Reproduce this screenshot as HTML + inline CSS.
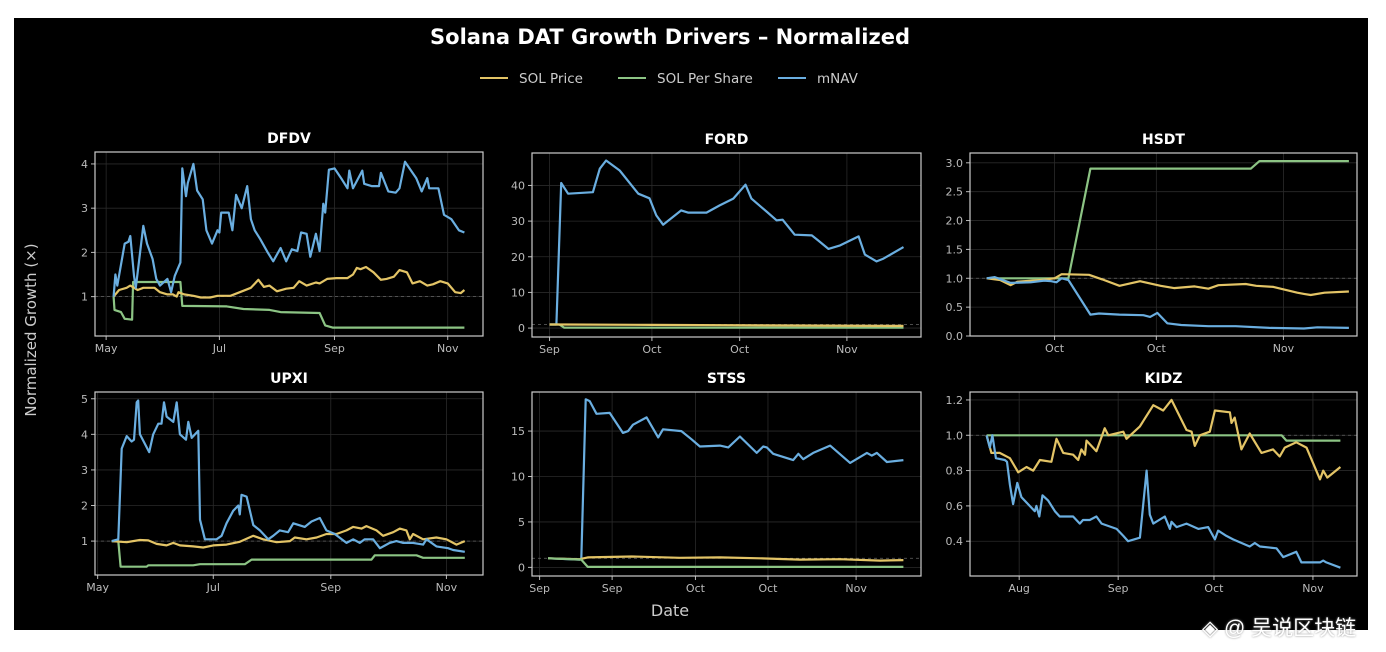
<!DOCTYPE html>
<html><head><meta charset="utf-8">
<style>
html,body{margin:0;padding:0;background:#fff;}
#wrap{position:relative;width:1386px;height:652px;background:#fff;overflow:hidden;font-family:"DejaVu Sans","Liberation Sans",sans-serif;}
#panel{position:absolute;left:14px;top:18px;width:1354px;height:612px;background:#000;}
svg{position:absolute;left:0;top:0;font-family:"DejaVu Sans","Liberation Sans",sans-serif;}
#wm{position:absolute;left:1202px;top:612px;font-family:"Liberation Sans","Noto Sans CJK SC",sans-serif;font-size:21px;color:#fff;text-shadow:0 0 2px #888;}
</style></head><body>
<div id="wrap">
<div id="panel"></div>
<svg id="svg" width="1386" height="652"></svg>
<div id="wm">◈ @ 吴说区块链</div>
</div>
<script>
// ---- DFDV ----
const dfdvMnavX=[125,126,127,131,133,134,136,137,141,143,146,148,150,154,156,158,161,162,164,165,168,170,173,175,178,181,182,183,187,189,191,194,197,199,201,204,208,211,215,218,221,224,226,229,231,234,236,238,239,241,244,248,251,252,254,259,260,264,268,269,273,277,279,282,286,288,291,294,295,300,303,307,311,314];
const dfdvMnavY=[1.0,1.5,1.25,2.2,2.24,2.37,1.47,1.2,2.6,2.2,1.85,1.4,1.25,1.4,1.1,1.47,1.77,3.9,3.27,3.57,4.0,3.4,3.2,2.5,2.2,2.5,2.45,2.9,2.9,2.5,3.3,3.0,3.5,2.75,2.5,2.3,2.0,1.8,2.1,1.8,2.07,2.03,2.45,2.42,1.9,2.42,2.03,3.1,2.9,3.87,3.9,3.65,3.45,3.85,3.45,3.85,3.55,3.5,3.5,3.8,3.38,3.35,3.45,4.05,3.8,3.68,3.38,3.68,3.45,3.45,2.85,2.75,2.5,2.45];
const dfdvPriceX=[125,128,132,134,138,141,147,150,154,157,159,160,163,168,172,177,181,188,193,199,203,206,209,213,218,222,225,229,234,236,240,245,251,254,256,258,261,265,269,272,276,279,283,286,290,294,297,301,305,309,312,314];
const dfdvPriceY=[1.0,1.15,1.2,1.25,1.15,1.2,1.2,1.1,1.05,1.05,1.0,1.1,1.05,1.02,0.98,0.98,1.02,1.02,1.1,1.2,1.38,1.22,1.25,1.12,1.18,1.2,1.35,1.25,1.32,1.3,1.4,1.42,1.42,1.5,1.65,1.62,1.67,1.55,1.38,1.4,1.45,1.6,1.55,1.3,1.35,1.25,1.28,1.35,1.3,1.1,1.08,1.15];
const dfdvShareX=[125,125.5,129,131,135,135.5,161,162,186,195,209,215,236,239,243,314];
const dfdvShareY=[1.0,0.7,0.65,0.5,0.48,1.33,1.33,0.79,0.78,0.72,0.7,0.65,0.63,0.35,0.3,0.3];
// ---- FORD ----
const fordMnavX=[244,245.4,246.4,247.8,252.9,254.3,255.6,258.4,262.2,264.5,265.9,267.3,271,272.4,276.2,278.9,281.7,284.2,285.4,288.5,290.6,291.8,294.3,297.8,299.1,301.2,303.6,307.4,308.7,311.1,312.5,316.6];
const fordMnavY=[1,1,40.7,37.7,38.1,44.7,47,44.2,37.7,36.4,31.6,29,33,32.4,32.4,34.4,36.3,40.2,36.3,32.7,30.2,30.4,26.2,26,24.6,22.2,23.2,25.7,20.6,18.7,19.5,22.7];
const fordPriceX=[244,247,265,280,300,316.6];
const fordPriceY=[1.0,1.0,0.9,0.8,0.7,0.6];
const fordShareX=[244,246,247,316.6];
const fordShareY=[1.0,1.0,0.1,0.1];
// ---- HSDT ----
const hsdtMnavX=[242.9,244.6,247.9,252.1,254.9,256.4,257.5,258.6,260,264.6,266.4,270.7,275.7,277.1,278.6,280.7,283.6,289.3,295,302.1,309.3,312.1,318.7];
const hsdtMnavY=[1.0,1.02,0.92,0.93,0.96,0.95,0.93,1.0,0.97,0.37,0.39,0.37,0.36,0.33,0.40,0.22,0.19,0.17,0.17,0.14,0.13,0.15,0.14];
const hsdtPriceX=[242.9,245.7,247.9,249.3,254.3,257.1,258.6,264.3,267.1,270.7,275,279.3,282.1,286.4,289.3,291.4,297.1,299.3,302.9,307.9,309.3,310.7,313.6,318.7];
const hsdtPriceY=[1.0,0.97,0.88,0.94,0.97,1.0,1.07,1.06,0.98,0.87,0.95,0.87,0.83,0.86,0.82,0.88,0.9,0.87,0.85,0.75,0.73,0.71,0.75,0.77];
const hsdtShareX=[242.9,260,264.6,298.2,300,318.7];
const hsdtShareY=[1.0,1.0,2.9,2.9,3.03,3.03];
// ---- UPXI ----
const upxiMnavX=[128.4,131.9,133.7,136.3,138.9,140.2,141.6,142.4,143.3,148.2,150.3,153,154.7,156,157.4,160.9,162.7,164.4,167.6,168.8,170.6,174.1,175,177.6,183.7,186.4,189,192.5,195.2,196,196.9,199.6,203.1,206.6,211,213.6,217.1,221.5,224.2,230.3,233.8,238.2,241.7,246.1,252.3,255.8,259.3,261.9,266.3,269.9,275.1,278.6,282.2,287.4,292.7,294.5,299.7,305.9,308.5,314.7];
const upxiMnavY=[1.0,1.05,3.6,3.95,3.8,3.85,4.9,4.95,4.0,3.5,4.0,4.3,4.3,4.9,4.5,4.35,4.9,4.0,3.85,4.35,3.9,4.1,1.6,1.05,1.05,1.15,1.5,1.85,2.0,1.75,2.3,2.25,1.45,1.3,1.05,1.15,1.3,1.25,1.5,1.4,1.55,1.65,1.3,1.2,0.95,1.05,0.95,1.05,1.05,0.8,0.95,1.0,0.95,0.95,0.9,1.05,0.85,0.8,0.75,0.7];
const upxiPriceX=[128.4,136.3,143.3,147.7,152.1,157.4,160.9,164.4,171.4,176.7,182,189,196,203.1,208.3,215.4,222.4,225,231.2,236.5,241.7,247,252.3,255.8,260.2,262.8,268.1,271.6,276.9,280.4,283.9,285.7,287.4,292.7,299.7,305,310.3,314.7];
const upxiPriceY=[1.0,0.97,1.03,1.02,0.92,0.88,0.95,0.88,0.85,0.82,0.88,0.9,0.98,1.15,1.05,0.97,1.0,1.1,1.05,1.1,1.2,1.2,1.3,1.4,1.35,1.42,1.3,1.15,1.25,1.35,1.3,1.05,1.2,1.05,1.1,1.05,0.9,1.0];
const upxiShareX=[128.4,131.9,133.1,146.8,147.7,171.4,175,198.7,202.2,265.5,267.2,289.2,292.7,314.7];
const upxiShareY=[1.0,1.0,0.28,0.28,0.32,0.32,0.35,0.35,0.48,0.48,0.6,0.6,0.53,0.53];
// ---- STSS ----
const stssMnavX=[222.1,230,230.4,231.5,232.5,234.2,237.5,240.8,242.1,243.3,246.7,249.6,250.8,255.4,257.9,260,265,267.1,270,274.2,275.8,276.7,278.3,283.3,284.6,285.8,288.3,292.5,297.5,301.7,302.9,304.2,306.7,310.8];
const stssMnavY=[1.0,0.85,0.9,18.5,18.3,16.9,17.0,14.8,15.0,15.7,16.5,14.3,15.2,15.0,14.1,13.3,13.4,13.2,14.4,12.6,13.3,13.2,12.5,11.8,12.5,11.9,12.6,13.4,11.5,12.6,12.3,12.6,11.6,11.8];
const stssPriceX=[222.1,230,232,243,255,265,275,285,295,305,310.8];
const stssPriceY=[1.0,0.9,1.1,1.2,1.05,1.1,1.0,0.85,0.9,0.75,0.8];
const stssShareX=[222.1,230.4,232,310.8];
const stssShareY=[1.0,0.85,0.05,0.05];
// ---- KIDZ ----
const kidzMnavX=[202.8,203.8,204.6,205.7,208.5,209.2,210.1,211.1,212.4,213.7,216.3,217.9,218.4,219.3,220.3,222.1,224.2,225.7,229.9,232,233,235.1,237.2,238.8,243.5,245.6,247.1,250.8,252.9,253.9,255,258.6,260.2,260.7,262.3,265.4,269.1,272.2,274.3,275.3,277.9,280,285.2,286.8,288.4,293.6,295.7,299.8,301.4,307.2,308.2,309.2,313.6];
const kidzMnavY=[1.0,0.93,1.0,0.87,0.86,0.85,0.72,0.61,0.73,0.65,0.6,0.57,0.6,0.54,0.66,0.63,0.57,0.54,0.54,0.5,0.52,0.52,0.54,0.5,0.47,0.43,0.4,0.42,0.8,0.55,0.5,0.54,0.47,0.51,0.48,0.5,0.47,0.48,0.41,0.46,0.43,0.41,0.37,0.39,0.37,0.36,0.31,0.34,0.28,0.28,0.29,0.28,0.25];
const kidzPriceX=[202.8,204.3,206.9,210.1,212.7,215.3,217.4,219.5,223.1,224.7,226.8,229.9,231.5,232.5,233.6,234.1,237.2,239.8,240.9,245.6,246.6,250.8,255,258.1,260.7,265.4,267,268,269.6,272.7,274.3,279,279.5,280.5,282.6,285.2,288.9,292.5,294.6,296.2,299.8,303,307.2,308.2,309.5,313.6];
const kidzPriceY=[1.0,0.9,0.9,0.87,0.79,0.82,0.8,0.86,0.85,0.98,0.9,0.89,0.86,0.92,0.89,0.97,0.91,1.04,1.0,1.02,0.98,1.05,1.17,1.14,1.2,1.03,1.02,0.94,1.0,1.02,1.14,1.13,1.07,1.1,0.92,1.01,0.9,0.92,0.88,0.93,0.96,0.93,0.75,0.8,0.76,0.82];
const kidzShareX=[202.8,295.2,296.7,313.6];
const kidzShareY=[1.0,1.0,0.97,0.97];
// ticks
const dfdvYTicks=[1,2,3,4], dfdvXTicks=[121,182,244,305], dfdvXLabels=['May','Jul','Sep','Nov'];
const fordYTicks=[0,10,20,30,40], fordXTicks=[244,265,283,305], fordXLabels=['Sep','Oct','Oct','Nov'];
const hsdtYTicks=[0,0.5,1,1.5,2,2.5,3], hsdtYLabels=['0.0','0.5','1.0','1.5','2.0','2.5','3.0'], hsdtXTicks=[257.1,278.4,305], hsdtXLabels=['Oct','Oct','Nov'];
const upxiYTicks=[1,2,3,4,5], upxiXTicks=[121,182,244,305], upxiXLabels=['May','Jul','Sep','Nov'];
const stssYTicks=[0,5,10,15], stssXTicks=[220,238.1,258.9,277,299], stssXLabels=['Sep','Sep','Oct','Oct','Nov'];
const kidzYTicks=[0.4,0.6,0.8,1.0,1.2], kidzYLabels=['0.4','0.6','0.8','1.0','1.2'], kidzXTicks=[213,244,274,305], kidzXLabels=['Aug','Sep','Oct','Nov'];

const NS='http://www.w3.org/2000/svg';
const svg=document.getElementById('svg');
function mk(tag,attrs,parent){const e=document.createElementNS(NS,tag);for(const k in attrs)e.setAttribute(k,attrs[k]);(parent||svg).appendChild(e);return e;}
const C_PRICE='#e3c466',C_SHARE='#8cc484',C_MNAV='#6aaee0';

const charts=[
 {id:'dfdv',title:'DFDV',box:[95,152,483,336],xd:[115,324],yd:[0.11,4.27],yt:dfdvYTicks,yl:null,xt:dfdvXTicks,xl:dfdvXLabels,
  s:[[dfdvShareX,dfdvShareY,C_SHARE],[dfdvPriceX,dfdvPriceY,C_PRICE],[dfdvMnavX,dfdvMnavY,C_MNAV]]},
 {id:'ford',title:'FORD',box:[532,153,921,337],xd:[240.4,320.2],yd:[-2.5,49.1],yt:fordYTicks,yl:null,xt:fordXTicks,xl:fordXLabels,
  s:[[fordMnavX,fordMnavY,C_MNAV],[fordShareX,fordShareY,C_SHARE],[fordPriceX,fordPriceY,C_PRICE]]},
 {id:'hsdt',title:'HSDT',box:[970,153,1357,336],xd:[239.4,320.4],yd:[0,3.17],yt:hsdtYTicks,yl:hsdtYLabels,xt:hsdtXTicks,xl:hsdtXLabels,
  s:[[hsdtShareX,hsdtShareY,C_SHARE],[hsdtPriceX,hsdtPriceY,C_PRICE],[hsdtMnavX,hsdtMnavY,C_MNAV]]},
 {id:'upxi',title:'UPXI',box:[95,392,483,575],xd:[119.6,324.3],yd:[0.047,5.19],yt:upxiYTicks,yl:null,xt:upxiXTicks,xl:upxiXLabels,
  s:[[upxiShareX,upxiShareY,C_SHARE],[upxiPriceX,upxiPriceY,C_PRICE],[upxiMnavX,upxiMnavY,C_MNAV]]},
 {id:'stss',title:'STSS',box:[532,392,921,576],xd:[218.1,315.2],yd:[-0.95,19.3],yt:stssYTicks,yl:null,xt:stssXTicks,xl:stssXLabels,
  s:[[stssMnavX,stssMnavY,C_MNAV],[stssPriceX,stssPriceY,C_PRICE],[stssShareX,stssShareY,C_SHARE]]},
 {id:'kidz',title:'KIDZ',box:[970,392,1357,576],xd:[197.6,318.8],yd:[0.203,1.245],yt:kidzYTicks,yl:kidzYLabels,xt:kidzXTicks,xl:kidzXLabels,
  s:[[kidzShareX,kidzShareY,C_SHARE],[kidzPriceX,kidzPriceY,C_PRICE],[kidzMnavX,kidzMnavY,C_MNAV]]}
];

charts.forEach(c=>{
  const [x0,y0,x1,y1]=c.box;
  const sx=v=>x0+(v-c.xd[0])/(c.xd[1]-c.xd[0])*(x1-x0);
  const sy=v=>y1-(v-c.yd[0])/(c.yd[1]-c.yd[0])*(y1-y0);
  const g=mk('g',{});
  
  
  const t=mk('text',{x:(x0+x1)/2,y:y0-9,'text-anchor':'middle',fill:'#fff','font-size':14,'font-weight':'bold'},g);
  t.textContent=c.title;
  
  
  c.yt.forEach((v,i)=>{
    const y=sy(v);
    const gl=mk('line',{x1:x0,x2:x1,y1:y,y2:y,stroke:'#2a2a2a','stroke-width':0.8},g);
    
    
    mk('line',{x1:x0-4,x2:x0,y1:y,y2:y,stroke:'#bbb','stroke-width':1},g);
    const tl=mk('text',{x:x0-7,y:y+4,'text-anchor':'end',fill:'#bbb','font-size':11},g);
    tl.textContent=c.yl?c.yl[i]:String(v);
    
    
  });
  c.xt.forEach((v,i)=>{
    const x=sx(v);
    const gl=mk('line',{x1:x,x2:x,y1:y0,y2:y1,stroke:'#2a2a2a','stroke-width':0.8},g);
    
    
    mk('line',{x1:x,x2:x,y1:y1,y2:y1+4,stroke:'#bbb','stroke-width':1},g);
    const tl=mk('text',{x:x,y:y1+16,'text-anchor':'middle',fill:'#bbb','font-size':11},g);
    tl.textContent=c.xl[i];
    
    
  });
  if(1>=c.yd[0]&&1<=c.yd[1]){
    const rl=mk('line',{x1:x0,x2:x1,y1:sy(1),y2:sy(1),stroke:'#666','stroke-width':0.8,'stroke-dasharray':'3,3'},g);
    
    
  }
  c.s.forEach(([xs,ys,col])=>{
    const d=xs.map((v,i)=>(i?'L':'M')+sx(v).toFixed(1)+','+sy(ys[i]).toFixed(1)).join('');
    const p=mk('path',{d:d,fill:'none',stroke:col,'stroke-width':2.2,'stroke-linejoin':'round'},g);
    
    
  });
  const fr=mk('rect',{x:x0,y:y0,width:x1-x0,height:y1-y0,fill:'none',stroke:'#ccc','stroke-width':1.2},g);
  
  
});

const title=mk('text',{x:670,y:44,'text-anchor':'middle',fill:'#fff','font-size':21,'font-weight':'bold'});
title.textContent='Solana DAT Growth Drivers – Normalized';


const legItems=[['SOL Price',C_PRICE,480],['SOL Per Share',C_SHARE,618],['mNAV',C_MNAV,778]];
legItems.forEach(([lab,col,x])=>{
  const g=mk('g',{});
  
  
  mk('line',{x1:x,x2:x+28,y1:78,y2:78,stroke:col,'stroke-width':2},g);
  const t=mk('text',{x:x+39,y:83,fill:'#ccc','font-size':13.5},g);
  t.textContent=lab;
});
const yt=mk('text',{x:0,y:0,'text-anchor':'middle',fill:'#ccc','font-size':15,transform:'translate(36,330) rotate(-90)'});
yt.textContent='Normalized Growth (×)';


const xt=mk('text',{x:670,y:616,'text-anchor':'middle',fill:'#ccc','font-size':16});
xt.textContent='Date';


</script>
</body></html>
